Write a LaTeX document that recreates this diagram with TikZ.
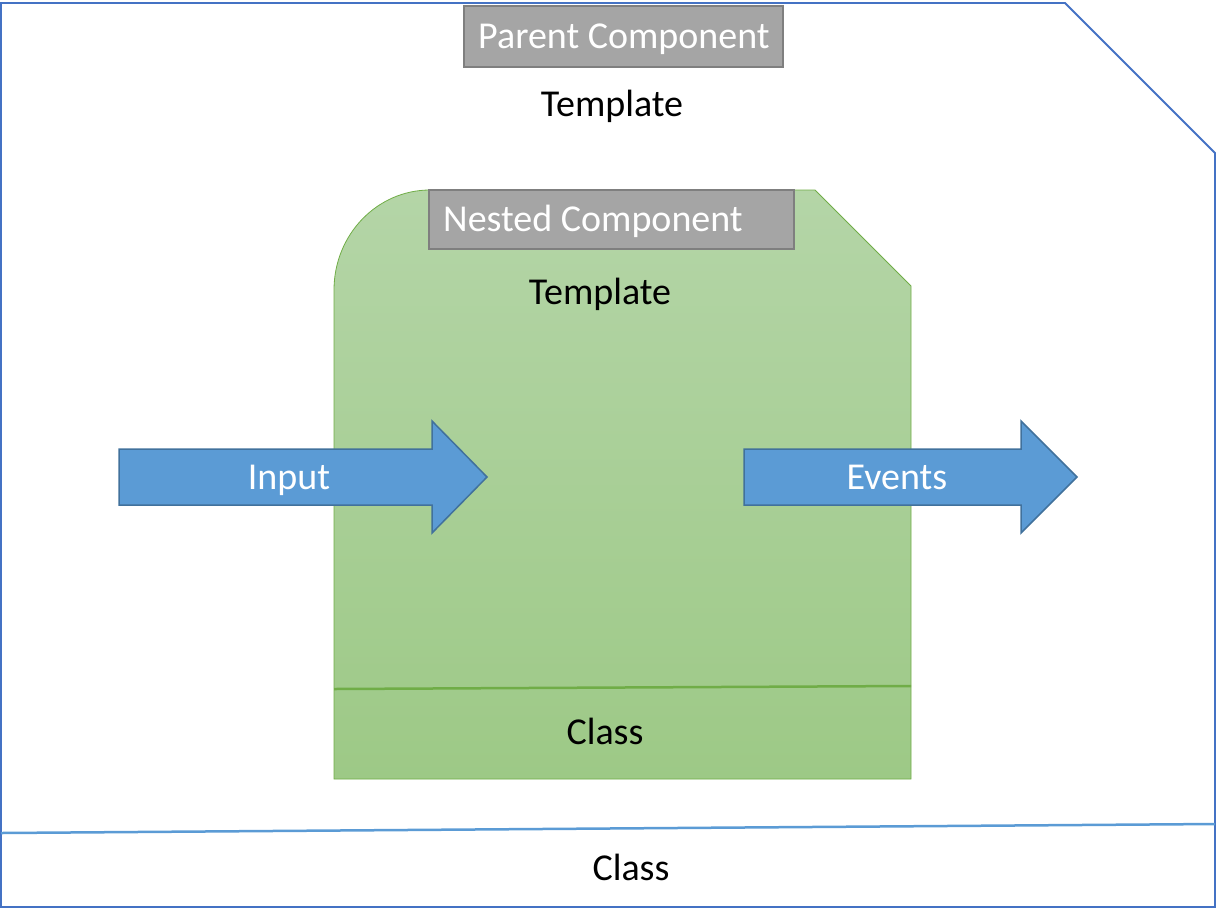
\documentclass[tikz,border=0pt]{standalone}
\usepackage{fontspec}
\setmainfont{Carlito}
\definecolor{outerblue}{HTML}{4472C4}
\definecolor{lineblue}{HTML}{5B9BD5}
\definecolor{arrowfill}{HTML}{5B9BD5}
\definecolor{arrowedge}{HTML}{41719C}
\definecolor{greentop}{HTML}{B4D5A7}
\definecolor{greenbot}{HTML}{9DC986}
\definecolor{greenedge}{HTML}{70AD47}
\definecolor{grayfill}{HTML}{A5A5A5}
\definecolor{grayedge}{HTML}{7F7F7F}
\tikzset{
  lbl/.style={font=\fontsize{38}{44}\selectfont, text=black, inner sep=0pt, anchor=base},
  wlbl/.style={font=\fontsize{38}{44}\selectfont, text=white, inner sep=0pt, anchor=base},
  graybox/.style={draw=grayedge, line width=2pt, fill=grayfill},
  arrowshape/.style={draw=arrowedge, line width=1.5pt, fill=arrowfill, line join=miter},
}
\begin{document}
\begin{tikzpicture}[x=1pt,y=-1pt]
\useasboundingbox (0,0) rectangle (1218,914);
% outer parent shape
\draw[outerblue, line width=1.8pt] (1,3) -- (1065,3) -- (1215,153) -- (1215,907) -- (1,907) -- cycle;
\coordinate (pl) at (1,833);
\coordinate (pr) at (1215,824);
\draw[lineblue, line width=2.5pt] (pl) -- (pr);
% nested green shape
\shade[top color=greentop, bottom color=greenbot, draw=greenedge, line width=0.8pt]
  (334,779) -- (334,290) arc[start angle=180, end angle=90, x radius=96, y radius=-100] -- (815,190) -- (911,286) -- (911,779) -- cycle;
\coordinate (nl) at (334,689);
\coordinate (nr) at (911,686);
\draw[greenedge, line width=2.5pt] (nl) -- (nr);
% gray title boxes
\node[graybox, minimum width=319pt, minimum height=61pt, anchor=north west] (parent) at (463,5) {};
\node[wlbl, anchor=base west] (parentlbl) at (478,48) {Parent Component};
\node[graybox, minimum width=365pt, minimum height=59pt, anchor=north west] (nested) at (428,189) {};
\node[wlbl, anchor=base west] (nestedlbl) at (443,231) {Nested Component};
% labels
\node[lbl] (ptemplate) at (612,116) {Template};
\node[lbl] (ntemplate) at (600,304) {Template};
\node[lbl] (nclass) at (605,744) {Class};
\node[lbl] (pclass) at (631,880) {Class};
% arrows
\draw[arrowshape] (119,449) -- (432,449) -- (432,421) -- (487,477) -- (432,533) -- (432,505) -- (119,505) -- cycle;
\node[wlbl] (input) at (289,489) {Input};
\draw[arrowshape] (744,449) -- (1021,449) -- (1021,421) -- (1077,477) -- (1021,533) -- (1021,505) -- (744,505) -- cycle;
\node[wlbl] (events) at (897,489) {Events};
\end{tikzpicture}
\end{document}
